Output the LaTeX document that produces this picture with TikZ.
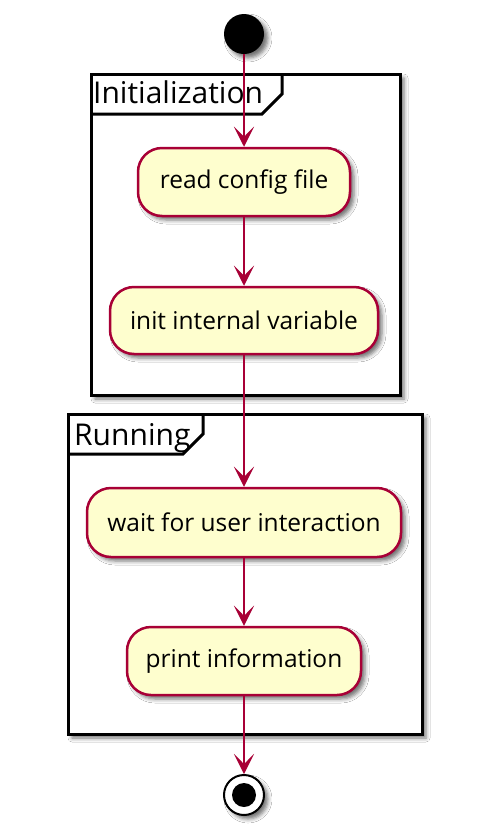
\documentclass[tikz,border=0pt]{standalone}
\usepackage{fontspec}
\setmainfont{Open Sans}
\usetikzlibrary{arrows.meta,shadows.blur}
\definecolor{pumlred}{HTML}{A80036}
\definecolor{pumlfill}{HTML}{FEFECE}
\begin{document}
\begin{tikzpicture}[x=1pt,y=-1pt,
  shad/.style={blur shadow={shadow xshift=4pt,shadow yshift=-4pt,shadow blur radius=4pt,shadow opacity=55}},
  act/.style={draw=pumlred,line width=2.5pt,fill=pumlfill,rounded corners=24pt,minimum height=68pt,inner sep=0pt,font=\fontsize{24.5}{29}\selectfont,text=black,shad},
  frm/.style={draw=black,line width=3pt,fill=white,shad},
  tabline/.style={draw=black,line width=3pt},
  lbl/.style={font=\fontsize{30}{36}\selectfont,anchor=base west,inner sep=0pt,text=black},
  flow/.style={draw=pumlred,line width=2pt,-{Stealth[length=20pt,width=20pt,inset=10pt]}},
]
\fill[white] (0,0) rectangle (486,836);
\useasboundingbox (0,0) rectangle (486,836);
% frames
\path[frm] (91,74) rectangle (400,395);
\draw[tabline] (91,114) -- (262,114) -- (282,94) -- (282,74);
\node[lbl] (initlbl) at (93,103) {Initialization};
\path[frm] (68,414) rectangle (422,734);
\draw[tabline] (68,454) -- (183,454) -- (203,434) -- (203,414);
\node[lbl] (runlbl) at (74,445) {Running};
% nodes
\node[circle,fill=black,minimum size=40pt,inner sep=0pt,shad] (start) at (244,34) {};
\node[act,minimum width=212pt] (b1) at (244,182) {read config file};
\node[act,minimum width=268pt,minimum height=67pt] (b2) at (244,320.5) {init internal variable};
\node[act,minimum width=314pt,minimum height=69pt] (b3) at (244,522.5) {wait for user interaction};
\node[act,minimum width=234pt] (b4) at (244,661) {print information};
\node[circle,draw=black,line width=2pt,fill=white,minimum size=40pt,inner sep=0pt,shad] (end) at (244,795) {};
\node[circle,fill=black,minimum size=24pt,inner sep=0pt] (endin) at (end) {};
% connectors
\draw[flow] (start) -- (b1);
\draw[flow] (b1) -- (b2);
\draw[flow] (b2) -- (b3);
\draw[flow] (b3) -- (b4);
\draw[flow] (b4) -- (end);
\end{tikzpicture}
\end{document}
